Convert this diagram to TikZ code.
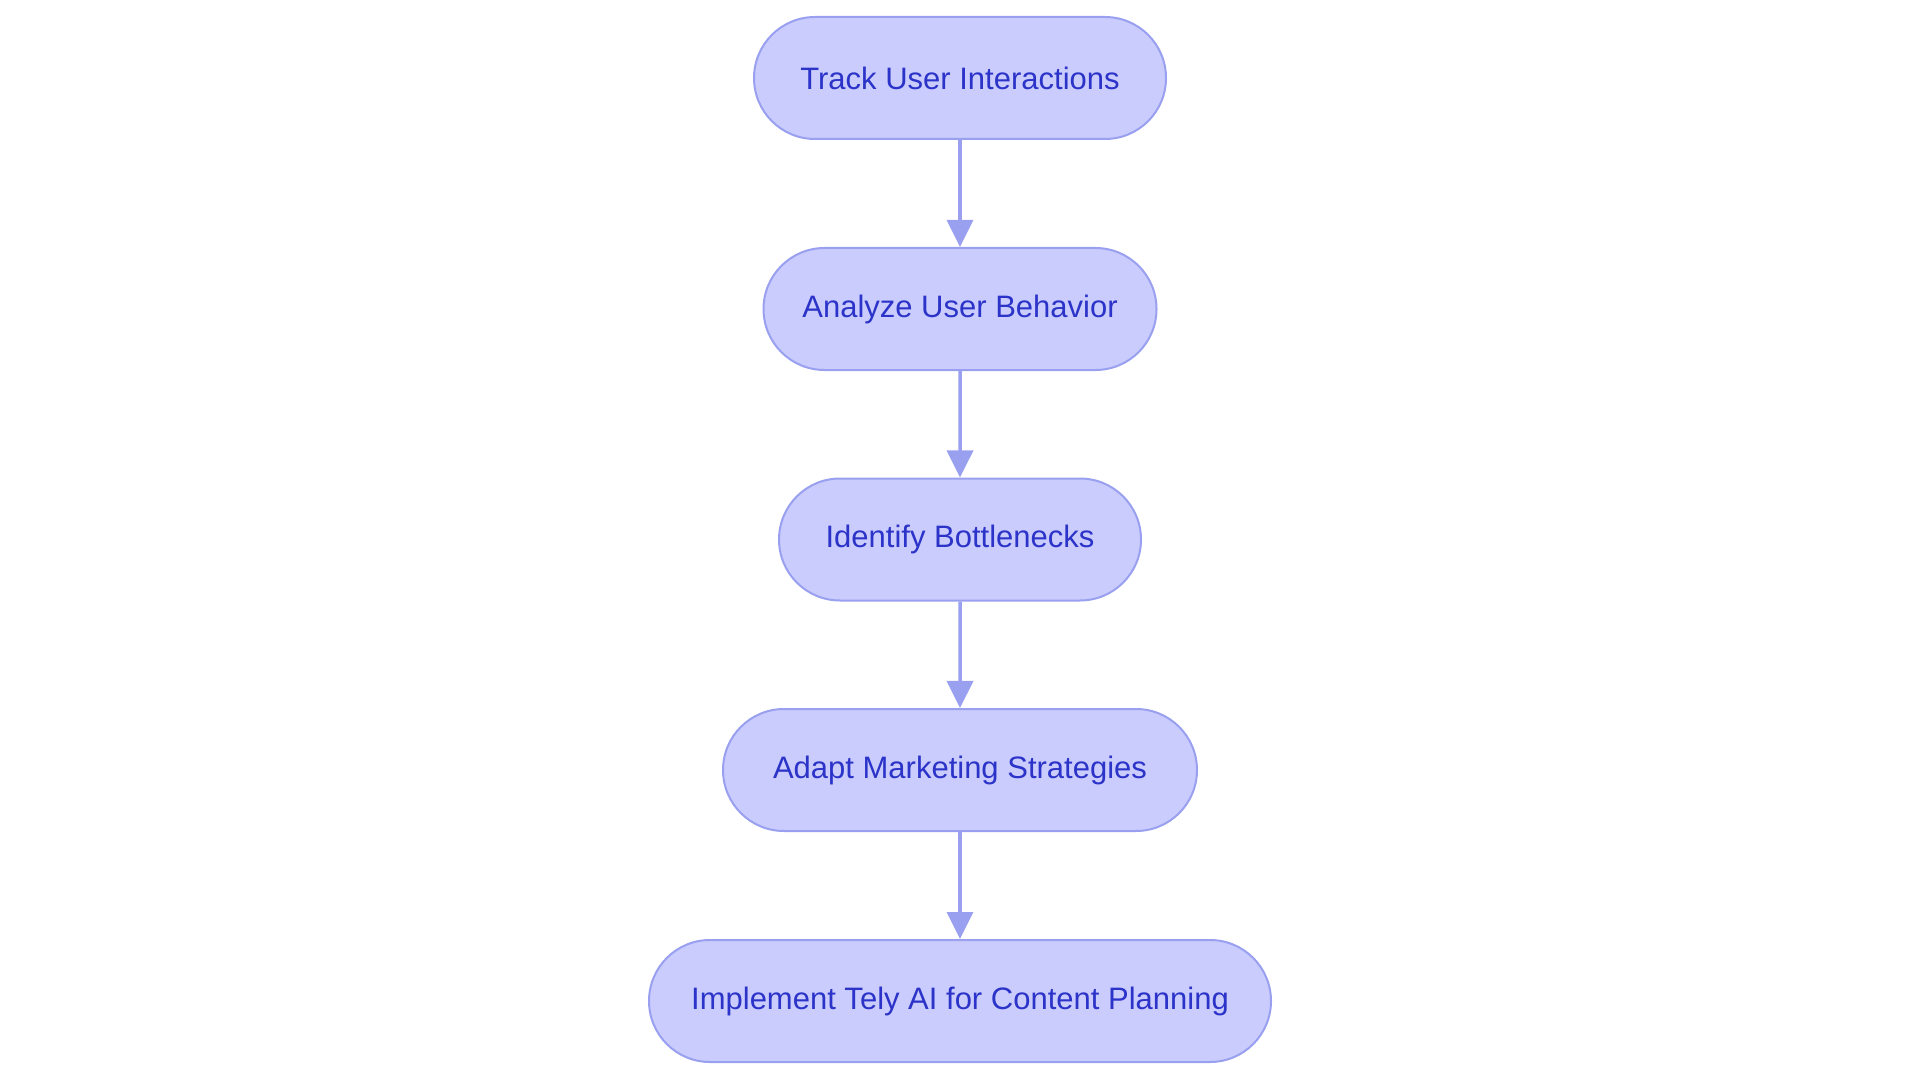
\documentclass[tikz,border=0pt]{standalone}
\usepackage{fontspec}
\setmainfont{Liberation Sans}
\usetikzlibrary{shapes.misc,arrows.meta}
\definecolor{nodefill}{HTML}{CACCFD}
\definecolor{nodeline}{HTML}{9AA0F0}
\definecolor{nodetext}{HTML}{2B33C8}
\definecolor{arrowcol}{HTML}{9AA0F0}
\tikzset{
  flowbox/.style={rounded rectangle, draw=nodeline, fill=nodefill, line width=2pt,
    minimum height=122pt, inner sep=0pt, text=nodetext,
    font=\fontsize{31}{37}\selectfont},
  flowarrow/.style={draw=arrowcol, line width=3.5pt, -{Triangle[length=27pt,width=26pt]}}
}
\begin{document}
\begin{tikzpicture}[x=1pt,y=1pt]
\useasboundingbox (0,0) rectangle (1920,-1083);
\node[flowbox, minimum width=412pt] (n1) at (960,-78) {Track User Interactions};
\node[flowbox, minimum width=393pt] (n2) at (960,-309) {Analyze User Behavior};
\node[flowbox, minimum width=362pt] (n3) at (960,-539.5) {Identify Bottlenecks};
\node[flowbox, minimum width=474pt] (n4) at (960,-770) {Adapt Marketing Strategies};
\node[flowbox, minimum width=622pt] (n5) at (960,-1001) {Implement Tely AI for Content Planning};
\draw[flowarrow] (n1) -- (n2);
\draw[flowarrow] (n2) -- (n3);
\draw[flowarrow] (n3) -- (n4);
\draw[flowarrow] (n4) -- (n5);
\end{tikzpicture}
\end{document}
